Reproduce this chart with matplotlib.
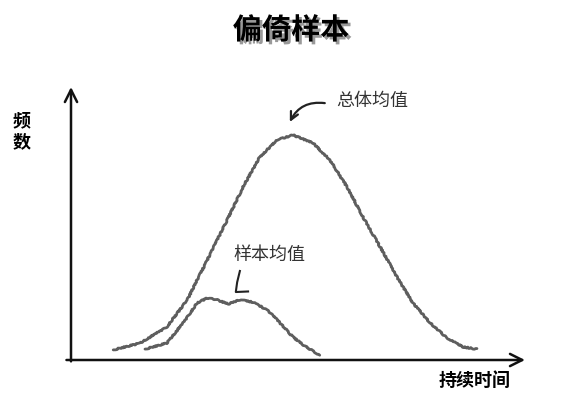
import matplotlib
matplotlib.use('Agg')
import matplotlib.pyplot as plt
import matplotlib.patheffects as pe

plt.rcParams['font.family'] = ['Noto Sans CJK SC', 'DejaVu Sans']

# 数据：总体分布曲线与样本分布曲线（横轴：持续时间，纵轴：频数，任意单位）
pop_x = [9.3, 15.2, 21.1, 25.6, 30.0, 34.4, 37.9, 41.6, 45.4, 48.9, 53.3,
         57.0, 60.8, 64.3, 68.1, 71.8, 75.3, 79.1, 82.8, 86.3, 89.4]
pop_y = [3.7, 6.2, 12.1, 22.0, 36.6, 51.3, 63.4, 74.4, 80.6, 82.4, 79.5,
         73.3, 63.4, 52.4, 41.4, 30.4, 20.9, 13.6, 8.1, 4.8, 4.0]

sample_x = [16.3, 21.1, 24.7, 27.8, 30.0, 32.2, 34.6, 37.2, 40.1, 43.2,
            45.4, 48.9, 51.5, 54.8]
sample_y = [4.0, 6.2, 13.6, 20.9, 22.7, 22.0, 20.5, 22.0, 21.2, 18.3,
            14.7, 8.4, 5.1, 1.8]

title = '偏倚样本'
ylabel = '频\n数'
xlabel = '持续时间'
pop_label = '总体均值'
sample_label = '样本均值'

W, H = 561, 405
fig = plt.figure(figsize=(W / 100, H / 100), dpi=100)
ax = fig.add_axes([71 / W, 45 / H, (525 - 71) / W, (360 - 87) / H])
ax.set_xlim(0, 100)
ax.set_ylim(0, 100)
ax.axis('off')

# 坐标轴（带箭头）
ax.annotate('', xy=(1, 0), xytext=(-0.01, 0), xycoords='axes fraction',
            arrowprops=dict(arrowstyle='->', lw=1.8, color='#111',
                            mutation_scale=22, shrinkA=0, shrinkB=0))
ax.annotate('', xy=(0, 1), xytext=(0, -0.005), xycoords='axes fraction',
            arrowprops=dict(arrowstyle='->', lw=1.8, color='#111',
                            mutation_scale=22, shrinkA=0, shrinkB=0))

# 手绘风格曲线
for xs, ys in [(pop_x, pop_y), (sample_x, sample_y)]:
    line, = ax.plot(xs, ys, color='#5e5e5e', lw=2.0, solid_joinstyle='round',
                    solid_capstyle='round')
    line.set_sketch_params(scale=0.6, length=3, randomness=6)

# 标注
ax.text(66.3, 94.9, pop_label, fontsize=13, fontweight='light', color='#333',
        ha='center', va='center')
ax.annotate('', xy=(48.2, 87.2), xytext=(55.9, 94.1),
            arrowprops=dict(arrowstyle='->', lw=1.6, color='#222',
                            connectionstyle='arc3,rad=0.35',
                            mutation_scale=14, shrinkA=0, shrinkB=0))

ax.text(43.6, 38.5, sample_label, fontsize=13, fontweight='light', color='#333',
        ha='center', va='center')
ax.plot([37.2, 36.6, 36.3, 39.0], [32.6, 28.5, 24.9, 25.1], color='#222', lw=1.5)

# 标题和轴标签
fig.text(291 / W, 1 - 30 / H, title, fontsize=21, fontweight='heavy',
         ha='center', va='center',
         path_effects=[pe.withSimplePatchShadow(offset=(2, -2), alpha=0.4)])
fig.text(22 / W, 1 - 131 / H, ylabel, fontsize=13, fontweight='bold',
         ha='center', va='center', linespacing=1.1)
fig.text(475 / W, 1 - 380 / H, xlabel, fontsize=13, fontweight='bold',
         ha='center', va='center')

fig.savefig('out.png', dpi=100)
